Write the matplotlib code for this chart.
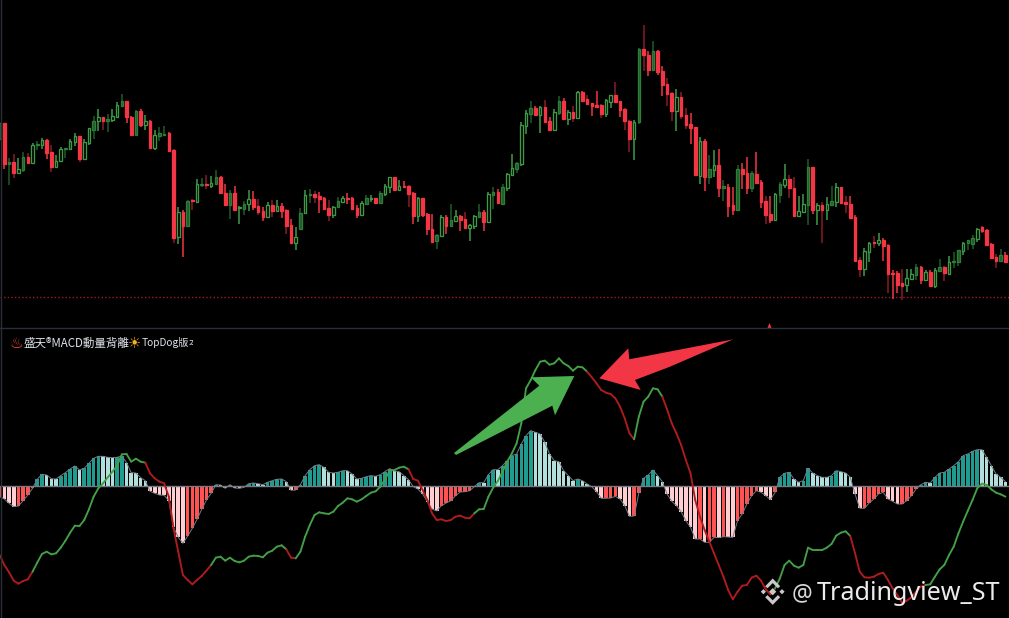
import numpy as np
import matplotlib
matplotlib.use("Agg")
import matplotlib.pyplot as plt
from matplotlib.patches import Polygon

# Candle values (price in ticks, one tick = 1/3 px)
body_top = [
    614,614,498,498,477,513,514,550,551,563,
    564,528,502,536,539,561,575,575,558,599,
    622,632,632,627,636,668,680,681,634,651,
    651,622,622,578,584,582,584,534,348,348,
    382,384,432,433,432,434,452,452,405,404,
    405,362,371,387,388,366,351,368,368,365,
    366,355,309,272,345,398,403,402,396,389,
    360,362,381,390,390,389,360,374,390,390,
    390,405,427,452,452,426,426,425,405,391,
    390,343,298,279,333,333,323,337,337,326,
    309,337,348,348,403,407,408,422,461,479,
    496,608,644,659,659,664,664,621,647,680,
    681,647,648,709,709,688,674,670,668,684,
    698,698,681,656,622,619,837,837,820,831,
    831,771,732,704,692,693,639,612,602,561,
    561,476,488,488,425,424,368,477,477,466,
    464,463,438,380,343,402,432,446,447,421,
    350,371,482,482,368,368,371,380,424,424,
    379,372,333,204,231,256,258,264,265,249,
    165,165,134,149,162,183,184,168,168,173,
    183,184,197,200,233,254,263,269,298,303,
    295,251,213,218,218]
body_bottom = [
    567,492,492,466,466,474,494,494,548,550,
    524,483,482,500,536,536,558,507,508,556,
    594,620,620,620,624,634,667,632,578,578,
    609,610,541,541,576,579,531,271,274,307,
    306,380,377,428,430,426,432,406,369,369,
    355,360,357,372,362,348,334,334,351,352,
    352,307,256,256,298,344,400,394,387,357,
    338,338,362,379,387,357,339,340,371,387,
    374,374,402,424,413,414,422,402,335,335,
    339,296,259,262,277,306,307,322,324,301,
    301,306,334,319,318,400,374,372,419,458,
    478,491,606,643,638,639,618,594,594,644,
    628,628,630,630,681,673,666,664,642,642,
    679,678,654,620,566,568,618,818,774,774,
    769,729,702,651,651,636,609,600,458,456,
    452,452,475,421,421,366,354,353,463,421,
    421,435,377,340,324,324,400,430,419,337,
    337,348,370,354,354,354,354,369,377,376,
    371,330,200,176,176,229,254,254,246,163,
    163,129,126,129,146,159,144,144,126,126,
    171,166,163,197,198,232,254,253,268,291,
    248,210,200,201,197]
highs = [
    614,614,509,522,509,527,524,554,561,569,
    566,549,519,544,541,566,584,576,566,601,
    637,657,634,641,657,679,701,681,636,653,
    656,639,624,594,602,606,587,536,362,354,
    384,387,446,449,458,456,474,456,432,414,
    426,366,381,414,410,388,364,379,383,384,
    376,357,326,302,359,414,417,410,407,392,
    384,366,392,397,406,393,369,382,399,399,
    390,410,431,452,452,444,441,429,409,394,
    390,346,343,282,340,338,372,354,339,347,
    312,339,372,354,407,424,416,432,465,522,
    499,617,654,681,667,667,684,632,657,696,
    689,654,667,712,712,699,674,712,672,686,
    700,738,681,660,624,623,839,910,831,860,
    833,787,751,709,717,708,659,644,602,572,
    566,519,534,536,444,432,424,488,494,514,
    471,528,444,395,395,404,437,492,458,452,
    396,402,507,482,374,377,393,426,435,424,
    395,395,339,214,239,257,276,284,269,251,
    174,170,176,176,177,192,187,174,174,179,
    207,187,216,228,234,257,264,279,300,307,
    297,254,221,237,229]
lows = [
    567,477,429,450,462,469,492,494,534,536,
    507,469,479,498,510,534,547,499,507,549,
    567,592,594,589,618,634,667,614,578,578,
    604,594,539,534,561,579,531,256,251,214,
    302,354,376,422,418,419,432,406,366,327,
    354,312,338,351,354,340,321,331,334,352,
    330,282,256,234,296,344,374,374,346,354,
    322,329,362,374,372,357,329,340,369,379,
    374,373,396,405,413,413,421,363,312,318,
    332,279,259,237,277,282,307,321,291,301,
    262,296,334,291,316,357,374,369,411,456,
    466,486,582,614,636,586,616,594,594,640,
    628,609,617,630,681,672,636,661,630,634,
    661,678,633,594,528,505,612,771,756,774,
    759,697,666,622,591,628,597,553,458,432,
    411,432,454,393,381,334,339,352,416,402,
    409,435,361,312,315,322,374,421,390,337,
    337,344,309,342,309,256,324,368,364,372,
    346,328,198,154,156,198,240,246,200,106,
    87,106,84,108,146,144,131,142,126,120,
    170,141,163,181,186,219,234,237,259,286,
    246,207,181,200,196]
# r red, R red with dark wick, h hollow green, f filled green
candle_kinds = ("frfRhfRhfh" "rRhhfhhRhh" "fhRfhhfrrf" "rhrhffrRhr" "fRhfRhfrrf"
                "rhfhrRrhRh" "rRrhfhfRrr" "Rhfhrrrhfh" "rfhhrhrRrh" "rrrfhrfhrR"
                "hhfrhfrfhh" "fhhfrhRrhf" "rhRhrRrrRh" "hRrRRhfRrf" "rrRRhRRrrh"
                "rfhrfrrfrr" "frrRrhfhRR" "hhfrhRhfhr" "RrrRhhRhrR" "rrRhhfrhrh"
                "fRhffhffhR" "rrRfr")
low_level = 92

# Indicator pane
hist = [
    -33,-40,-53,-63,-61,-45,-28,-8,19,34,
    32,21,20,30,39,50,59,47,52,67,
    82,88,88,85,84,85,89,69,39,38,
    24,15,-17,-23,-28,-29,-45,-125,-155,-173,
    -151,-128,-101,-71,-43,-23,3,2,-8,3,
    -7,-8,-5,6,8,6,3,10,15,19,
    20,12,-14,-13,3,30,48,60,63,55,
    40,38,40,45,45,35,20,22,27,30,
    28,33,42,51,44,42,30,18,-3,-10,
    -25,-48,-70,-76,-60,-52,-45,-30,-19,-18,
    -15,-3,9,9,33,48,48,60,75,90,
    95,125,150,165,160,155,130,95,75,72,
    45,30,15,20,15,5,-3,-18,-38,-38,
    -37,-32,-40,-60,-92,-91,-22,22,32,47,
    30,12,-25,-47,-60,-78,-105,-125,-160,-160,
    -170,-170,-155,-156,-153,-154,-155,-105,-85,-55,
    -30,-15,-20,-30,-42,-20,25,37,40,20,
    10,15,52,38,30,25,25,30,45,42,
    38,25,-25,-68,-68,-52,-40,-25,-20,-40,
    -47,-55,-55,-45,-30,-10,3,10,8,25,
    38,40,50,60,72,90,95,103,108,108,
    85,60,35,25,12]
macd_line = [
    -208,-238,-260,-285,-294,-286,-281,-258,-231,-205,
    -198,-206,-203,-186,-165,-141,-120,-121,-103,-71,
    -33,-8,7,25,42,60,94,95,72,81,
    72,69,37,22,12,7,-33,-128,-198,-268,
    -283,-296,-283,-271,-255,-238,-216,-213,-225,-216,
    -226,-230,-225,-213,-210,-211,-215,-201,-195,-183,
    -179,-191,-216,-218,-198,-153,-118,-88,-80,-83,
    -85,-78,-61,-51,-38,-41,-48,-41,-31,-21,
    -17,-3,19,45,47,54,57,49,20,15,
    -13,-43,-83,-103,-101,-106,-103,-93,-90,-96,
    -98,-83,-71,-70,-33,-6,14,42,72,97,
    127,187,292,317,347,372,375,363,367,382,
    367,359,345,357,355,342,325,307,287,279,
    275,262,237,202,157,139,207,252,267,292,
    289,267,229,187,157,122,77,37,-43,-93,
    -133,-168,-203,-238,-273,-313,-341,-318,-300,-298,
    -276,-270,-285,-311,-326,-308,-278,-238,-225,-240,
    -246,-238,-186,-193,-193,-193,-186,-175,-150,-141,
    -137,-151,-203,-258,-275,-276,-273,-265,-261,-283,
    -308,-328,-351,-345,-335,-318,-303,-298,-296,-273,
    -251,-238,-208,-183,-143,-108,-75,-43,-8,6,
    2,-11,-21,-26,-33]
# stretches of the line that are drawn red
red_spans = [(0, 7), (31, 45), (61, 63), (87, 101), (125, 135), (141, 165), (181, 197)]

RED = "#f23645"
DARK_RED = "#8a1c2a"
GREEN = "#3f9a47"
DARK_GREEN = "#1d5c28"

plt.rcParams["font.family"] = ["Noto Sans CJK TC", "DejaVu Sans"]

fig = plt.figure(figsize=(10.09, 6.18), dpi=100, facecolor="black")
xlim = (0.079, 214.76)

# Price pane
ax = fig.add_axes([0, 290 / 618, 1, 328 / 618], facecolor="black")
ax.set_xlim(*xlim)
ax.set_ylim(0, 984)
ax.set_axis_off()
ax.axhline(low_level, color="#a01c28", lw=1.0, ls=(0, (1, 1.6)))
for i, kind in enumerate(candle_kinds):
    top, bottom = body_top[i], body_bottom[i]
    if kind in "rR":
        wick = DARK_RED if kind == "R" else RED
        face = edge = RED
    else:
        wick = GREEN if kind == "h" else DARK_GREEN
        face = "black" if kind == "h" else DARK_GREEN
        edge = GREEN if kind == "h" else "#2f7d38"
    ax.vlines(i, lows[i], highs[i], color=wick, lw=1.1, zorder=2)
    ax.bar(i, max(top - bottom, 2), bottom=bottom, width=0.56, color=face,
           edgecolor=edge, linewidth=0.95, zorder=3)

# Indicator pane
ax2 = fig.add_axes([0, 0, 1, 289 / 618], facecolor="black")
ax2.set_xlim(*xlim)
ax2.set_ylim(-397, 470)
ax2.set_axis_off()
colors = []
for i, h in enumerate(hist):
    prev = hist[i - 1] if i else h
    if h >= 0:
        colors.append("#1f9c8f" if h > prev else "#b2dfdb")
    else:
        colors.append("#ffcdd2" if h < prev else "#ff5252")
xs = np.arange(len(hist))
ax2.bar(xs, hist, width=0.76, color=colors, linewidth=0, zorder=2)
ax2.plot(xs, hist, color="#787b86", lw=0.7, zorder=3)
ax2.axhline(0, color="#787b86", lw=1.0, zorder=3)

red_mask = np.zeros(len(macd_line) - 1, dtype=bool)
for start, stop in red_spans:
    red_mask[start:stop] = True
for i in range(len(macd_line) - 1):
    ax2.plot(xs[i:i + 2], macd_line[i:i + 2], color="#b01c1c" if red_mask[i] else "#43a047",
             lw=1.35, solid_capstyle="round", zorder=4)

# Overlay in picture pixels: pane border, label, arrows, watermark
ov = fig.add_axes([0, 0, 1, 1])
ov.patch.set_alpha(0)
ov.set_xlim(0, 1009)
ov.set_ylim(618, 0)
ov.set_axis_off()
ov.plot([0, 1009], [328.4, 328.4], color="#2a2e39", lw=1)
ov.plot([0.5, 0.5], [0, 618], color="#2a2e39", lw=1)
ov.add_patch(Polygon([(767.5, 328), (769.5, 323), (771.5, 328)], color=RED, lw=0))

ov.text(9, 343, "♨", color="#ff4a3d", fontsize=11, fontweight="bold", family="DejaVu Sans", va="center")
ov.text(23, 343, "盛天®MACD動量背離", color="#e0e3eb", fontsize=8.3, fontweight="medium", va="center")
ov.text(128, 343, "☀", color="#f5b324", fontsize=10.5, family="DejaVu Sans", va="center")
ov.text(142, 343, "TopDog版", color="#e0e3eb", fontsize=7.3, fontweight="medium", va="center")
tail = ov.text(188.5, 343, "本", color="#d1d4dc", fontsize=7.3, va="center")
tail.set_clip_on(True)
tail.set_clip_path(plt.Rectangle((188, 335), 5, 16, transform=ov.transData))

ov.add_patch(Polygon([(454, 453), (539.3, 385.7), (530.7, 377.3), (574.3, 376),
                      (555, 415.3), (552.3, 405.7), (456, 455)], color="#4caf50", lw=0))
ov.add_patch(Polygon([(733.3, 339.3), (629.3, 359.3), (628.3, 348.3), (599.3, 378.3),
                      (640.7, 390), (635, 380), (670, 366.7)], color=RED, lw=0))

# Watermark logo
logo = "#c9c9c9"
lx, ly = 772.7, 591.7
for dx, dy, r in [(0, 0, 3.6), (-9.3, 0, 2.6), (9.3, 0, 2.6)]:
    ov.add_patch(Polygon([(lx + dx - r, ly + dy), (lx + dx, ly + dy - r),
                          (lx + dx + r, ly + dy), (lx + dx, ly + dy + r)], color=logo, lw=0))
for s in (-1, 1):
    ov.add_patch(Polygon([(lx - 7.5, ly + s * 5.5), (lx, ly + s * 13.2), (lx + 7.5, ly + s * 5.5),
                          (lx + 5.2, ly + s * 3.4), (lx, ly + s * 8.6), (lx - 5.2, ly + s * 3.4)],
                         color=logo, lw=0))
ov.text(792, 600.5, "@", color="#d8d8d8", fontsize=16.5, family="Noto Sans", va="baseline")
ov.text(816.5, 600.5, "Tradingview_ST", color="#ececec", fontsize=18.1, family="Noto Sans", va="baseline")

fig.savefig("out.png", dpi=100, facecolor="black")
